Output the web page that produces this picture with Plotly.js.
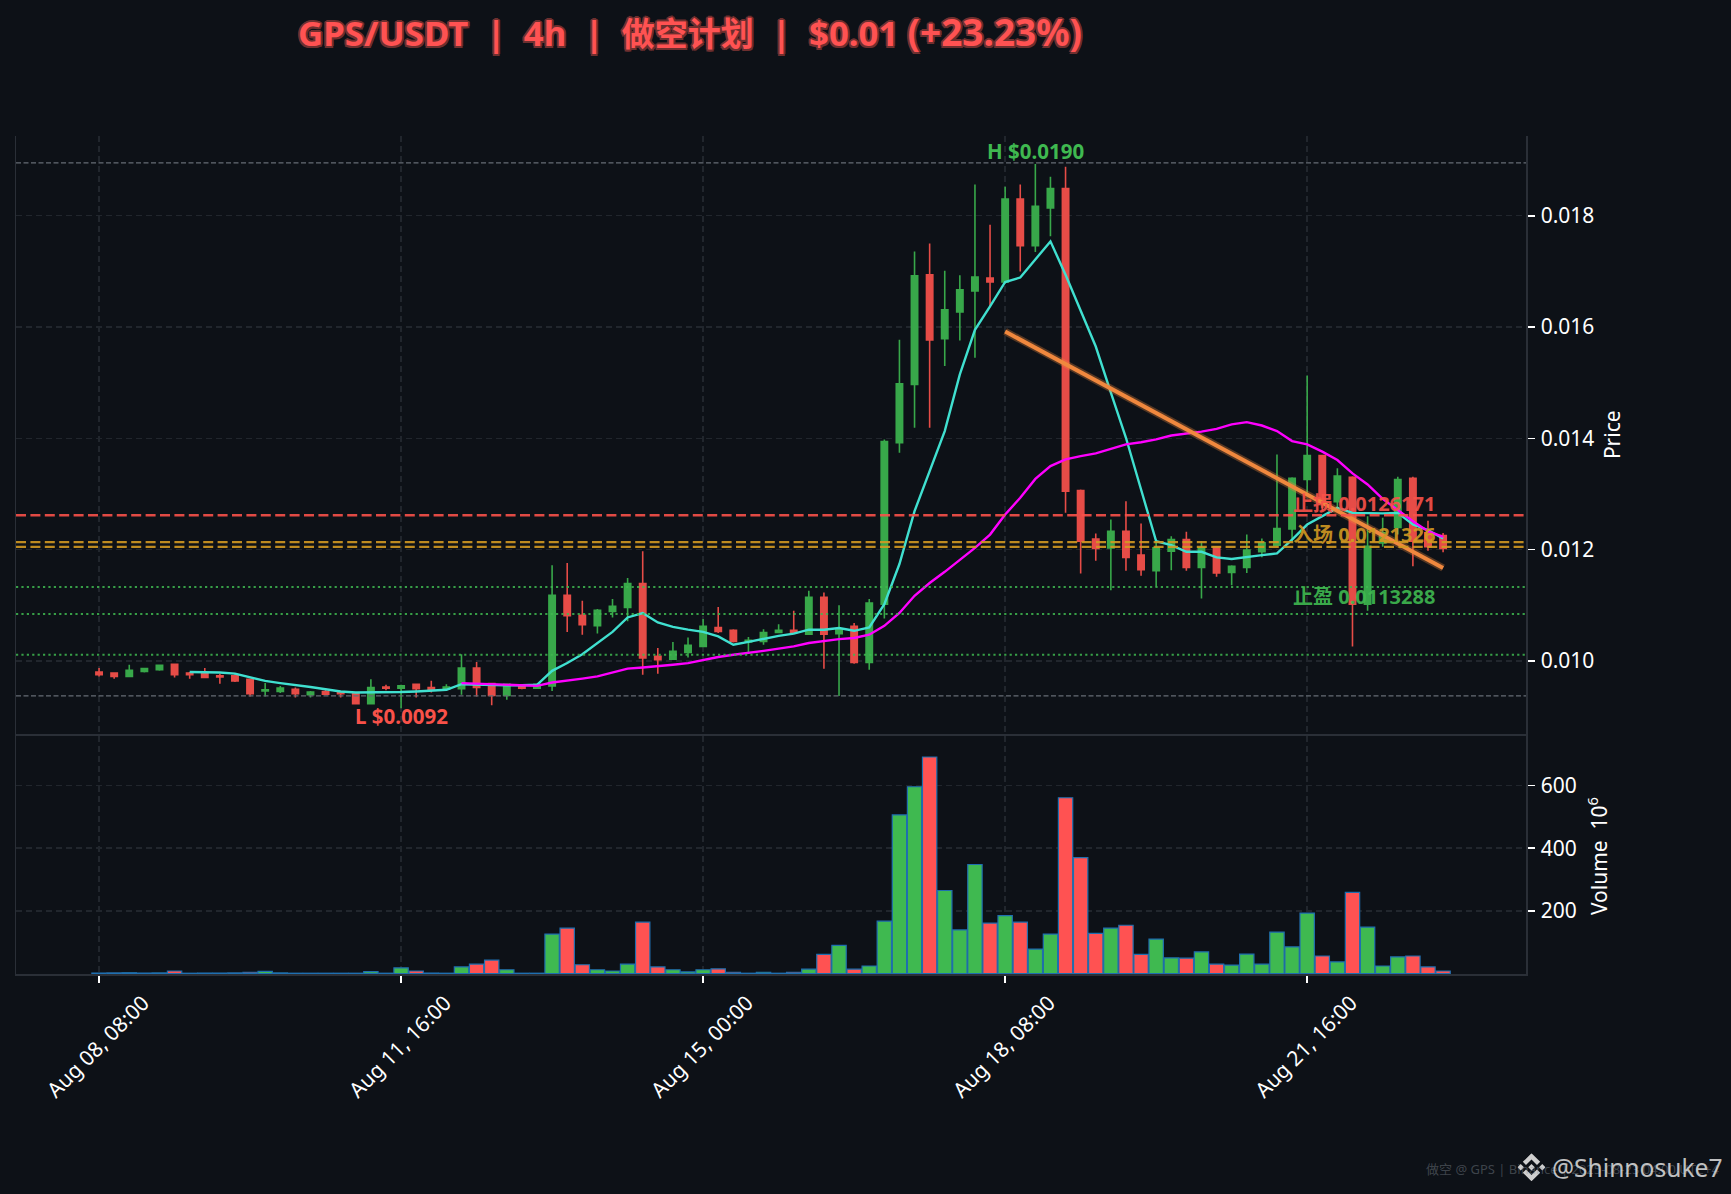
<!DOCTYPE html>
<html><head><meta charset="utf-8">
<script src="https://cdn.plot.ly/plotly-3.0.1.min.js"></script>
<style>html,body{margin:0;padding:0;background:#0d1117}#c{width:1731px;height:1194px}</style>
</head><body><div id="c"></div>
<script>
// Values, prices in units of 1e-3 USDT, volumes in millions
const open_ = [9.80,9.78,9.72,9.81,9.84,9.94,9.78,9.77,9.73,9.73,9.67,9.46,9.45,9.49,9.39,9.45,9.43,9.42,9.23,9.53,9.51,9.58,9.52,9.49,9.50,9.87,9.59,9.38,9.56,9.51,9.55,11.18,10.82,10.63,10.89,10.96,11.39,10.08,10.03,10.15,10.26,10.60,10.55,10.34,10.35,10.51,10.55,10.48,11.14,10.49,10.62,9.97,11.02,13.92,14.97,16.94,15.79,16.27,16.65,16.88,16.81,18.30,17.46,18.14,18.49,13.06,12.19,12.03,12.33,11.90,11.62,11.97,12.18,11.68,12.05,11.59,11.68,11.96,12.08,12.37,13.26,13.69,12.86,13.30,11.02,12.12,12.40,13.28,12.30,12.25];
const high_ = [9.87,9.78,9.93,9.87,9.92,9.94,9.80,9.87,9.77,9.76,9.67,9.60,9.55,9.52,9.46,9.48,9.44,9.42,9.67,9.57,9.57,9.59,9.64,9.58,10.12,9.98,9.60,9.58,9.57,9.58,11.72,11.76,11.08,10.93,11.11,11.49,11.97,10.23,10.34,10.42,10.75,10.97,10.57,10.43,10.57,10.66,10.90,11.26,11.23,11.00,10.68,11.11,13.98,15.77,17.36,17.50,17.01,16.93,18.56,17.84,18.52,18.56,18.93,18.70,18.88,13.08,12.29,12.54,12.87,12.47,12.18,12.24,12.32,12.15,12.06,11.72,12.27,12.20,13.71,13.30,15.13,13.70,13.46,13.32,12.60,12.57,13.31,13.31,12.52,12.30];
const low_ = [9.72,9.68,9.72,9.79,9.82,9.70,9.68,9.70,9.59,9.62,9.36,9.36,9.42,9.34,9.34,9.39,9.34,9.23,9.23,9.47,9.15,9.34,9.43,9.46,9.39,9.36,9.20,9.30,9.49,9.50,9.46,10.52,10.47,10.49,10.78,10.71,9.75,9.77,10.02,10.06,10.25,10.50,10.33,10.15,10.29,10.50,10.49,10.47,9.86,9.37,9.95,9.84,10.76,13.74,14.19,14.19,15.30,15.76,15.45,16.37,16.78,17.00,17.35,17.63,12.66,11.57,11.80,11.27,11.62,11.53,11.33,11.63,11.62,11.12,11.51,11.36,11.58,11.86,12.06,12.15,13.02,12.70,12.70,10.26,10.90,12.05,12.27,11.70,11.98,11.95];
const close_ = [9.75,9.72,9.83,9.86,9.92,9.75,9.75,9.70,9.71,9.64,9.41,9.48,9.51,9.41,9.44,9.40,9.41,9.23,9.52,9.51,9.55,9.50,9.49,9.53,9.87,9.52,9.38,9.58,9.51,9.58,11.18,10.81,10.65,10.91,10.98,11.39,10.05,10.02,10.17,10.28,10.62,10.53,10.35,10.37,10.51,10.55,10.51,11.14,10.48,10.56,9.97,11.04,13.94,14.98,16.92,15.77,16.31,16.67,16.90,16.81,18.30,17.46,18.17,18.49,13.05,12.15,12.02,12.33,11.86,11.64,12.03,12.18,11.68,12.03,11.58,11.70,11.99,12.12,12.38,13.28,13.69,12.85,13.32,11.02,12.06,12.30,13.26,12.15,12.05,12.02];
const volume = [1.5,2,2.5,1.5,2,8,1,1.5,1.5,2,4,7,2,1,1,1,1,1,6,1,18,8,1.5,1,21,30,43,12,1,1,126,145,28,12,8,30,164,21,12,5,12,15,4,1,4,1,4,14,61,90,14,24,167,506,596,691,265,139,348,161,185,164,78,126,561,370,128,145,154,61,110,50,49,69,30,27,62,30,132,85,193,56,37,259,148,24,53,56,21,8];
const ma7 = [null,null,null,null,null,null,9.80,9.80,9.79,9.77,9.71,9.64,9.60,9.57,9.53,9.49,9.45,9.43,9.43,9.43,9.44,9.45,9.47,9.48,9.58,9.57,9.56,9.56,9.56,9.57,9.82,9.96,10.12,10.32,10.52,10.78,10.86,10.69,10.61,10.56,10.52,10.44,10.29,10.34,10.40,10.45,10.49,10.56,10.56,10.59,10.54,10.60,11.02,11.74,12.69,13.41,14.13,15.15,15.95,16.37,16.81,16.89,17.21,17.54,16.94,16.31,15.65,14.82,14.01,13.08,12.15,12.08,11.96,11.96,11.86,11.83,11.87,11.90,11.93,12.18,12.45,12.60,12.75,12.66,12.65,12.65,12.66,12.45,12.35,12.20];
const ma25 = [null,null,null,null,null,null,null,null,null,null,null,null,null,null,null,null,null,null,null,null,null,null,null,null,9.60,9.59,9.58,9.57,9.56,9.55,9.61,9.64,9.68,9.72,9.79,9.86,9.88,9.90,9.93,9.96,10.02,10.07,10.11,10.14,10.18,10.22,10.26,10.32,10.36,10.39,10.41,10.47,10.63,10.86,11.17,11.40,11.60,11.82,12.03,12.27,12.63,12.93,13.27,13.50,13.62,13.68,13.73,13.81,13.89,13.93,13.98,14.05,14.08,14.12,14.17,14.25,14.29,14.23,14.13,13.95,13.89,13.76,13.61,13.37,13.17,12.91,12.71,12.51,12.33,12.23];
const trendIdx = [60,89];
const trendVal = [15.92,11.67];
const tickIdx = [0,20,40,60,80];
const tickLabels = ['Aug 08, 08:00','Aug 11, 16:00','Aug 15, 00:00','Aug 18, 08:00','Aug 21, 16:00'];
const stopLevel = 12.6171, entryLevels = [12.1326,12.05], targetLevels = [11.3288,10.84,10.11], hiLevel = 18.95, loLevel = 9.37;
const priceTicks = [10,12,14,16,18], priceTickText = ['0.010','0.012','0.014','0.016','0.018'];
const volTicks = [200,400,600];

const T0 = Date.UTC(2025,7,8,8), STEP = 4*3600e3;
const tm = i => T0 + i*STEP;
const iso = ms => new Date(ms).toISOString().slice(0,19).replace('T',' ');
const x = volume.map((_,i)=>iso(tm(i)));
const GREEN='#3fb950', RED='#ff5252', GOLD='#d29922', CYAN='#40e0d0', LBL='#f85149';
const F='"Noto Sans","Noto Sans CJK SC",sans-serif';

const traces = [
 {type:'candlestick',x,open:open_,high:high_,low:low_,close:close_,xaxis:'x',yaxis:'y',whiskerwidth:0,
  increasing:{line:{color:'#38a84a',width:1.6},fillcolor:'#38a84a'},
  decreasing:{line:{color:'#e64c47',width:1.6},fillcolor:'#e64c47'},hoverinfo:'skip'},
 {type:'scatter',mode:'lines',x,y:ma7,line:{color:CYAN,width:2.4},xaxis:'x',yaxis:'y',hoverinfo:'skip'},
 {type:'scatter',mode:'lines',x,y:ma25,line:{color:'#ff00ff',width:2.4},xaxis:'x',yaxis:'y',hoverinfo:'skip'},
 {type:'scatter',mode:'lines',x:trendIdx.map(i=>x[i]),y:trendVal,line:{color:'rgba(240,136,62,0.32)',width:7.5},xaxis:'x',yaxis:'y',hoverinfo:'skip'},
 {type:'scatter',mode:'lines',x:trendIdx.map(i=>x[i]),y:trendVal,line:{color:'#f0883e',width:4},xaxis:'x',yaxis:'y',hoverinfo:'skip'},
 {type:'bar',x,y:volume,width:STEP*0.95,xaxis:'x',yaxis:'y2',hoverinfo:'skip',
  marker:{color:volume.map((_,i)=>close_[i]>=open_[i]?GREEN:RED),line:{color:'#1f6fb0',width:1.2}}}
];

const hl = (y,color,dash,width)=>({type:'line',xref:'paper',x0:0,x1:1,yref:'y',y0:y,y1:y,layer:'above',line:{color,dash,width}});
const shapes = [
 hl(hiLevel,'#666c75','5px,2.5px',1.3), hl(loLevel,'#666c75','5px,2.5px',1.3),
 hl(stopLevel,'rgba(248,81,73,0.9)','10px,4.4px',2.3),
 ...entryLevels.map(v=>hl(v,'rgba(210,153,34,0.9)','10px,4.4px',2.3)),
 ...targetLevels.map(v=>hl(v,'rgba(63,185,80,0.85)','2.2px,3.2px',2))
];

const W=1731,H=1194,L=15.5,R=1526.5,TOP=135.5,MID=736,BOT=974.5;
const px=v=>(v-L)/(R-L), py=v=>(BOT-v)/(BOT-TOP);
const ann=(text,xi,yv,color,size,extra)=>Object.assign({text,x:iso(tm(xi)),y:yv,xref:'x',yref:'y',showarrow:false,font:{family:F,size,color,weight:700}},extra||{});
const pap=(text,xp,yp,font,extra)=>Object.assign({text,xref:'paper',yref:'paper',x:px(xp),y:py(yp),xanchor:'center',yanchor:'middle',showarrow:false,font},extra||{});
const annotations = [
 ann('H $0.0190',62,19.16,GREEN,20.5),
 ann('L $0.0092',20,9.0,LBL,20.5),
 ann('止损 0.0126171',78.9,12.82,LBL,20,{xanchor:'left',opacity:0.9}),
 ann('入场 0.0121326',78.9,12.28,GOLD,20,{xanchor:'left',opacity:0.9}),
 ann('止盈 0.0113288',78.9,11.15,GREEN,20,{xanchor:'left',opacity:0.9}),
 pap('做空 @ GPS | Binance | 2025-08-23 04:00 UTC+4',1424,1170,{family:F,size:13,color:'rgba(139,148,158,0.4)'},{xanchor:'left'}),
 pap('@Shinnosuke7',1551,1168,{family:F,size:24.6,color:'rgba(225,225,225,0.85)'},{xanchor:'left'}),
 pap('Price',1612,434.5,{family:F,size:21,color:'#ffffff'},{textangle:-90}),
 pap('Volume  10<sup>6</sup>',1598,856,{family:F,size:21,color:'#ffffff'},{textangle:-90}),
 pap('GPS/USDT  |  4h  |  <span style="font-size:33px">做空计划</span>  |  $0.01 <span style="font-size:37px">(+23.23%)</span>',296,31,{family:F,size:34.8,color:'#ff5252',weight:700,shadow:'2px 0 0 #6e2f2f,-2px 0 0 #6e2f2f,0 2px 0 #6e2f2f,0 -2px 0 #6e2f2f,1.5px 1.5px 0 #6e2f2f,-1.5px 1.5px 0 #6e2f2f,1.5px -1.5px 0 #6e2f2f,-1.5px -1.5px 0 #6e2f2f'},{xanchor:'left'})
];

const logo = "data:image/svg+xml;utf8,"+encodeURIComponent('<svg xmlns="http://www.w3.org/2000/svg" viewBox="0 0 126 126"><g fill="#cfcfcf"><path d="M38.2 53L63 28.2 87.8 53l14.4-14.4L63 0 23.8 38.6z"/><path d="M0 63l14.4-14.4L28.8 63 14.4 77.4z"/><path d="M38.2 73L63 97.8 87.8 73l14.4 14.4L63 126 23.8 87.4z"/><path d="M97.2 63l14.4-14.4L126 63l-14.4 14.4z"/><path d="M77.6 63L63 48.4 48.4 63 63 77.6z"/></g></svg>');
const images = [{source:logo,xref:'paper',yref:'paper',x:px(1518),y:py(1154),sizex:28/(R-L),sizey:28/(BOT-TOP),xanchor:'left',yanchor:'top',layer:'above',sizing:'stretch'}];

const gridc='#21262d', framec='#2a2f37';
const tf={family:F,size:21,color:'#ffffff'};
const yax={side:'right',ticks:'outside',ticklen:7,tickwidth:1.6,tickcolor:'#ffffff',ticklabelstandoff:2,tickfont:tf,gridcolor:gridc,griddash:'6px,4px',gridwidth:1.4,showline:true,linecolor:framec,linewidth:1.5,mirror:true,zeroline:false,anchor:'x'};
const layout = {
 width:W,height:H,margin:{l:L,r:W-R,t:TOP,b:H-BOT,pad:0},
 paper_bgcolor:'#0d1117',plot_bgcolor:'#0d1117',showlegend:false,boxgap:0.4,
 font:{family:F,color:'#ffffff',size:18},
 xaxis:{type:'date',range:[iso(tm(-5.5)),iso(tm(94.49))],rangeslider:{visible:false},anchor:'y2',
  tickvals:tickIdx.map(i=>x[i]),ticktext:tickLabels,tickangle:-45,ticks:'outside',ticklen:7,tickwidth:1.6,tickcolor:'#ffffff',ticklabelshift:44,
  tickfont:tf,showgrid:true,gridcolor:gridc,griddash:'6px,4px',gridwidth:1.4,showline:true,linecolor:framec,linewidth:1.5,mirror:true,zeroline:false},
 yaxis:Object.assign({domain:[(BOT-MID)/(BOT-TOP),1],range:[8.653,19.434],tickvals:priceTicks,ticktext:priceTickText},yax),
 yaxis2:Object.assign({domain:[0,(BOT-MID)/(BOT-TOP)],range:[-1.5,758.7],tickvals:volTicks,ticktext:volTicks.map(String)},yax),
 shapes,annotations,images
};
Plotly.newPlot('c',traces,layout,{displayModeBar:false,staticPlot:true});
</script></body></html>
